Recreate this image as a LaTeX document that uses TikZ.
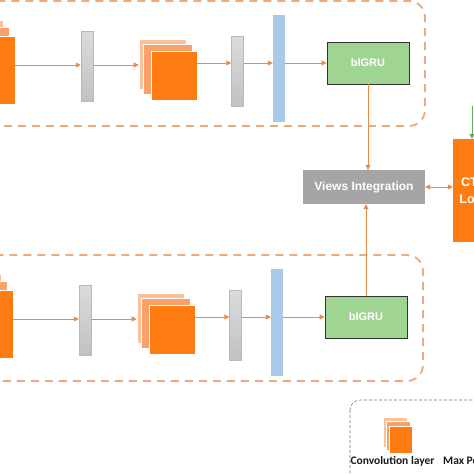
\documentclass[tikz,border=0pt]{standalone}
\usepackage{fontspec}
\newfontfamily\labelfont{Liberation Sans}
\newfontfamily\legendfont{Carlito}
\usetikzlibrary{arrows.meta}
\definecolor{orangemain}{RGB}{255,124,18}
\definecolor{orangemid}{RGB}{250,160,104}
\definecolor{orangelight}{RGB}{251,192,156}
\definecolor{dashline}{RGB}{242,168,122}
\definecolor{flowline}{RGB}{232,138,72}
\definecolor{barblue}{RGB}{168,201,234}
\definecolor{gruegreen}{RGB}{160,212,146}
\definecolor{viewsgray}{RGB}{165,165,165}
\definecolor{lossgreen}{RGB}{96,170,90}
\tikzset{
  layer/.style={rectangle,inner sep=0pt,draw=white,line width=0.6pt},
  poolbar/.style={rectangle,inner sep=0pt,minimum width=12pt,minimum height=70pt,
    top color=gray!28,bottom color=gray!48,draw=gray!55,line width=0.5pt},
  featbar/.style={rectangle,inner sep=0pt,minimum width=12pt,minimum height=107pt,fill=barblue},
  grubox/.style={rectangle,inner sep=0pt,minimum width=82pt,minimum height=42pt,
    fill=gruegreen,draw=black!80,line width=0.8pt,text=white,
    font=\labelfont\bfseries\fontsize{11}{13}\selectfont},
  viewsbox/.style={rectangle,inner sep=0pt,minimum width=122pt,minimum height=34pt,
    fill=viewsgray,text=white,font=\labelfont\bfseries\fontsize{12}{14}\selectfont},
  lossbox/.style={rectangle,inner sep=0pt,minimum width=42pt,minimum height=103pt,
    fill=orangemain,text=white,align=center,font=\labelfont\bfseries\fontsize{12.5}{17}\selectfont},
  flow/.style={draw=flowline,line width=0.8pt,-{Triangle[width=5pt,length=5pt]}},
  flowboth/.style={draw=flowline,line width=0.8pt,{Triangle[width=5pt,length=5pt]}-{Triangle[width=5pt,length=5pt]}},
  greenflow/.style={draw=lossgreen,line width=0.9pt,-{Triangle[width=5pt,length=5pt]}},
  viewframe/.style={draw=dashline,line width=1.8pt,dash pattern=on 8pt off 6pt,rounded corners=16pt},
  legendframe/.style={draw=black!55,line width=0.6pt,dash pattern=on 3pt off 2pt,rounded corners=10pt},
  legendtext/.style={inner sep=0pt,text=black!90,font=\legendfont\bfseries\fontsize{11.5}{13}\selectfont}
}

\begin{document}
\begin{tikzpicture}[x=1pt,y=-1pt]
    \useasboundingbox (0,0) rectangle (474,474);
    \clip (0,0) rectangle (474,474);
    \draw[viewframe] (-20,1) rectangle (425,126);
    \draw[viewframe] (-20,255) rectangle (423,381);
    \foreach \r/\dx/\dy in {1/0/0,2/-2/254}{
        \begin{scope}[shift={(\dx,\dy)}]
            \coordinate (row\r) at (0,65);
            \node[layer,fill=orangelight,minimum width=33pt,minimum height=68pt] (inpb\r) at (-13.5,54) {};
            \node[layer,fill=orangemid,minimum width=34pt,minimum height=69pt] (inpm\r) at (-8,61.5) {};
            \node[layer,fill=orangemain,minimum width=35pt,minimum height=68pt] (inp\r) at (-2.5,70) {};
            \node[poolbar] (poolx\r) at (87,66) {};
            \node[layer,fill=orangelight,minimum width=47pt,minimum height=50pt] (convb\r) at (162.5,64) {};
            \node[layer,fill=orangemid,minimum width=49pt,minimum height=50pt] (convm\r) at (167.5,69) {};
            \node[layer,fill=orangemain,minimum width=46pt,minimum height=49pt] (convf\r) at (174,75.5) {};
            \node[poolbar] (pooly\r) at (237.5,71) {};
            \node[featbar] (feat\r) at (279,68.5) {};
            \node[grubox] (bigru\r) at (368,63) {bIGRU};
            \draw[flow] (inp\r.east |- row\r) -- (poolx\r.west |- row\r);
            \draw[flow] (poolx\r.east |- row\r) -- (convb\r.west |- row\r);
            \draw[flow] (convf\r.east |- bigru\r) -- (pooly\r.west |- bigru\r);
            \draw[flow] (pooly\r.east |- bigru\r) -- (feat\r.west |- bigru\r);
            \draw[flow] (feat\r.east |- bigru\r) -- (bigru\r.west);
        \end{scope}
    }
    \node[viewsbox] (views) at (364,187) {Views Integration};
    \node[lossbox] (ctc) at (474,190.5) {CTC\\Loss};
    \draw[flow] (bigru1.south) -- (bigru1.south |- views.north);
    \draw[flow] (bigru2.north) -- (bigru2.north |- views.south);
    \draw[flowboth] (views.east) -- (ctc.west |- views.east);
    \coordinate (lossin) at (472,106);
    \draw[greenflow] (lossin) -- (lossin |- ctc.north);
    % legend
    \draw[legendframe] (350,400) rectangle (560,560);
    \node[layer,fill=orangelight,minimum width=24pt,minimum height=30pt] (legb) at (395,432) {};
    \node[layer,fill=orangemid,minimum width=24pt,minimum height=29pt] (legm) at (398,436) {};
    \node[layer,fill=orangemain,minimum width=23pt,minimum height=27pt] (legf) at (400.5,439.5) {};
    \node[legendtext] (convlbl) at (392.5,461) {Convolution layer};
    \node[legendtext,anchor=west] (poollbl) at (443,461) {Max Pooling};
\end{tikzpicture}
\end{document}
